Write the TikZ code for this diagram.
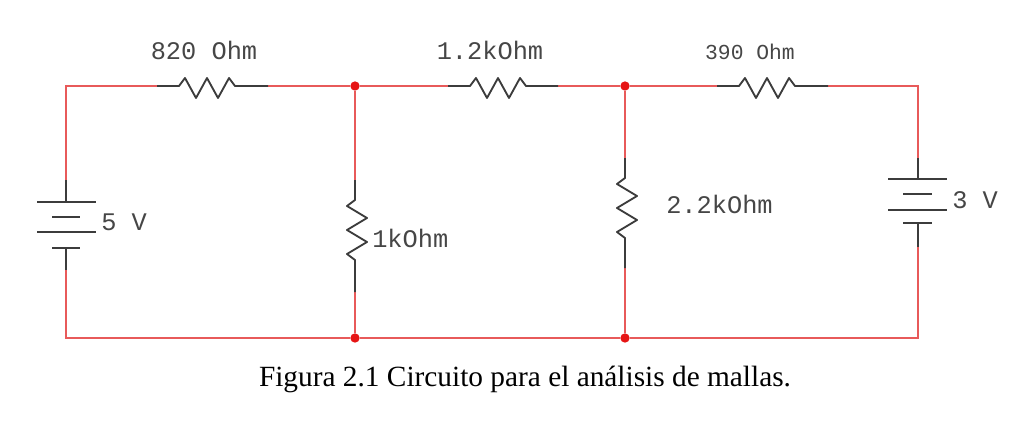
\documentclass[tikz,border=0pt]{standalone}
\usepackage{fontspec}
\setmainfont{Liberation Serif}
\newfontfamily\monof{Liberation Mono}
\begin{document}
\begin{tikzpicture}[x=0.75pt,y=-0.75pt,
 wire/.style={draw=wirered,line width=1.8pt},
 part/.style={draw=partgrey,line width=1.4pt},
 lbl/.style={text=labgrey,font=\monof\fontsize{19}{20}\selectfont,inner sep=0pt},
 dotn/.style={circle,fill=dotred,inner sep=0pt,minimum size=7pt}]
\definecolor{wirered}{RGB}{232,90,90}
\definecolor{dotred}{RGB}{230,20,20}
\definecolor{partgrey}{RGB}{60,60,60}
\definecolor{labgrey}{RGB}{70,70,70}
\useasboundingbox (0,0) rectangle (1033,437);
% corners and nodes
\coordinate (TL) at (66,86); \coordinate (BL) at (66,338);
\coordinate (TR) at (918,86); \coordinate (BR) at (918,338);
\node[dotn] (N1) at (355,86) {}; \node[dotn] (N2) at (625,86) {};
\node[dotn] (N3) at (355,338) {}; \node[dotn] (N4) at (625,338) {};
% resistor ends
\coordinate (Ra1) at (157,86); \coordinate (Ra2) at (268,86);
\coordinate (Rb1) at (448,86); \coordinate (Rb2) at (558,86);
\coordinate (Rc1) at (717,86); \coordinate (Rc2) at (828,86);
\coordinate (Rd1) at (355,180); \coordinate (Rd2) at (355,292);
\coordinate (Re1) at (625,158); \coordinate (Re2) at (625,268);
\coordinate (Ba1) at (66,180); \coordinate (Ba2) at (66,270);
\coordinate (Bb1) at (918,158); \coordinate (Bb2) at (918,247);
% wires
\draw[wire] (Ba1) -- (TL) -- (Ra1);
\draw[wire] (Ra2) -- (N1) -- (Rb1);
\draw[wire] (Rb2) -- (N2) -- (Rc1);
\draw[wire] (Rc2) -- (TR) -- (Bb1);
\draw[wire] (Bb2) -- (BR) -- (N4) -- (N3) -- (BL) -- (Ba2);
\draw[wire] (N1) -- (Rd1); \draw[wire] (Rd2) -- (N3);
\draw[wire] (N2) -- (Re1); \draw[wire] (Re2) -- (N4);
% horizontal resistors
\foreach \a/\b in {Ra1/Ra2,Rb1/Rb2,Rc1/Rc2}{
 \draw[part,line join=round] (\a) -- ++(22,0) -- ++(6,-8) -- ++(11,20) -- ++(11,-20) -- ++(11,20) -- ++(11,-20) -- ++(6,8) -- (\b);
}
% vertical resistors
\foreach \a/\b in {Rd1/Rd2,Re1/Re2}{
 \draw[part,line join=round] (\a) -- ++(0,20) -- ++(-8,6) -- ++(20,12) -- ++(-20,12) -- ++(20,12) -- ++(-20,12) -- ++(8,6) -- (\b);
}
% batteries
\draw[part] (Ba1) -- (66,202);
\draw[part] (37,202) -- (96,202); \draw[part] (52,217) -- (80,217);
\draw[part] (37,232) -- (96,232); \draw[part] (52,248) -- (80,248);
\draw[part] (66,248) -- (Ba2);
\draw[part] (Bb1) -- (918,179);
\draw[part] (888,179) -- (947,179); \draw[part] (903,194) -- (932,194);
\draw[part] (888,210) -- (947,210); \draw[part] (903,223) -- (932,223);
\draw[part] (918,223) -- (Bb2);
% labels
\node[lbl] (l1) at (204,50) {820 Ohm};
\node[lbl] (l2) at (490,50) {1.2kOhm};
\node[lbl,font=\monof\fontsize{16}{17}\selectfont] (l3) at (750,52) {390 Ohm};
\node[lbl,anchor=west] (l4) at (101,222) {5 V};
\node[lbl,anchor=west] (l5) at (372,238) {1kOhm};
\node[lbl,anchor=west] (l6) at (666,204) {2.2kOhm};
\node[lbl,anchor=west] (l7) at (952,200) {3 V};
\node[font=\fontsize{22}{24}\selectfont,inner sep=0pt] (cap) at (525,379) {Figura 2.1 Circuito para el análisis de mallas.};
\end{tikzpicture}
\end{document}
